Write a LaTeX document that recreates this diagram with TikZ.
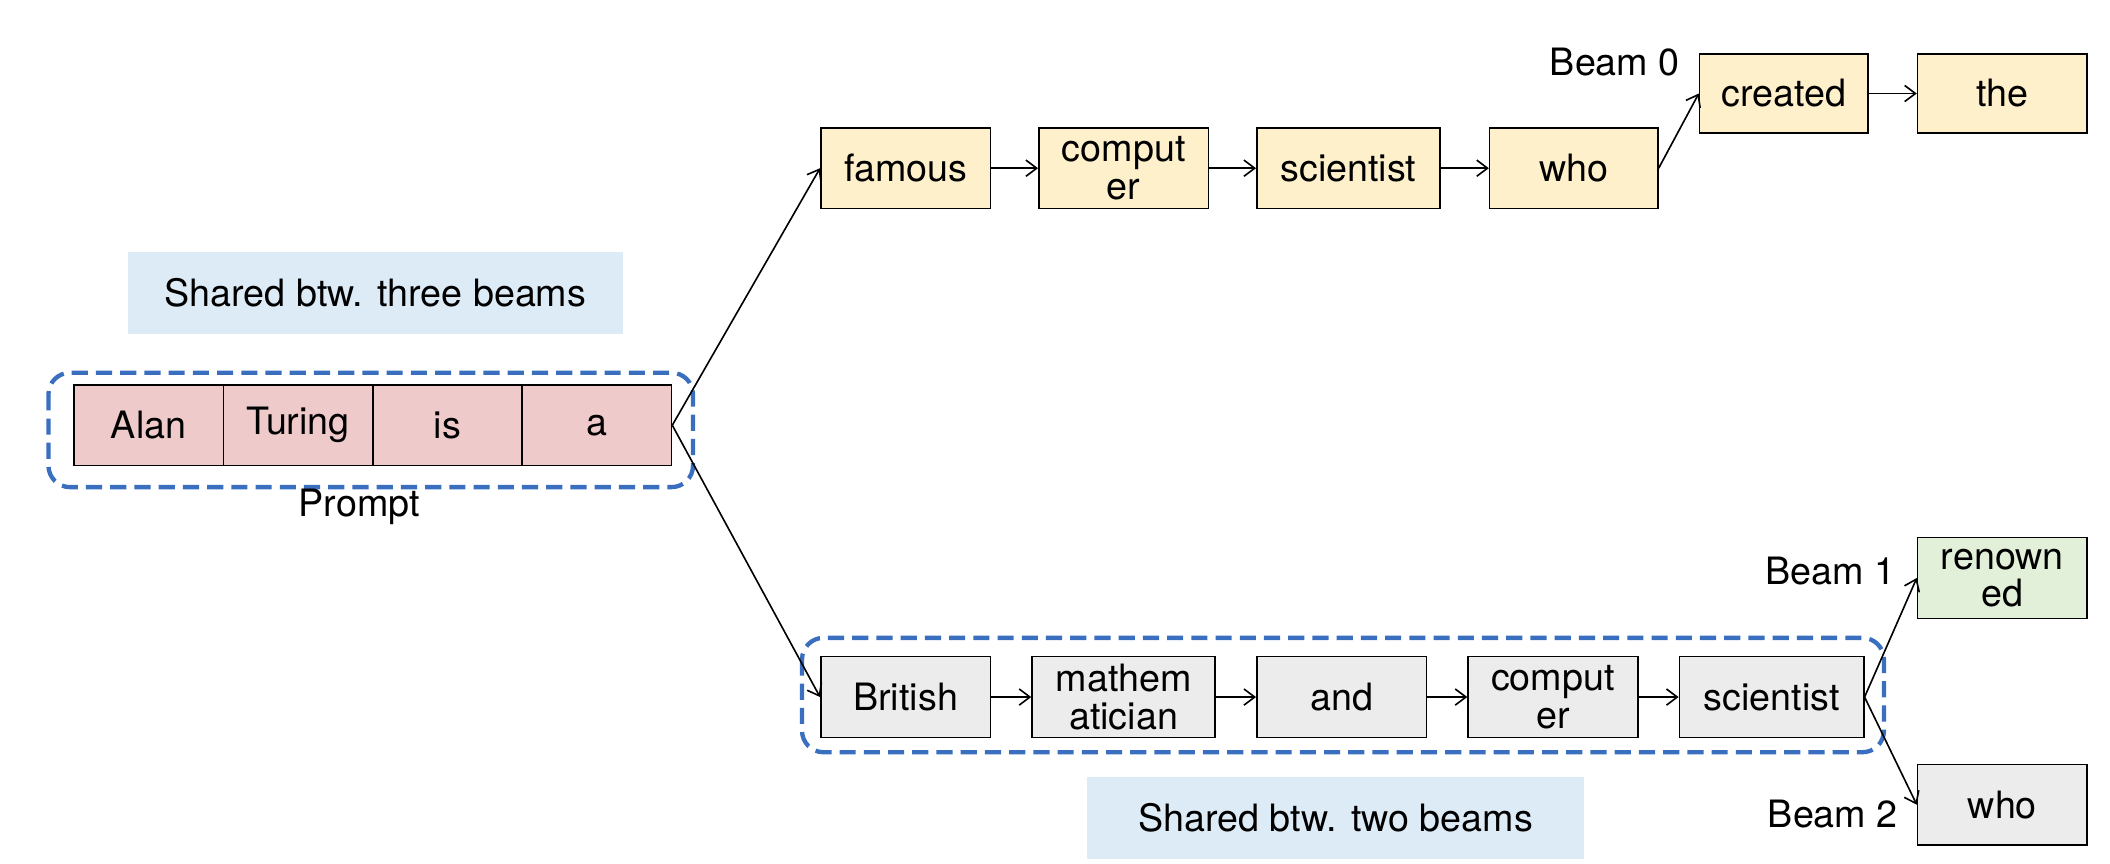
\documentclass[tikz,border=0pt]{standalone}
\usepackage{fontspec}
\setmainfont{TeX Gyre Heros}
\usetikzlibrary{arrows.meta}
\begin{document}
\begin{tikzpicture}[x=0.5pt,y=-0.5pt,
 tok/.style={draw=black,line width=0.6pt,minimum width=63pt,minimum height=30pt,inner sep=0pt,align=center,font=\fontsize{14}{14}\selectfont},
 ptok/.style={tok,fill=pinkf,minimum width=55.5pt},
 ytok/.style={tok,fill=yelf},
 gtok/.style={tok,fill=grayf},
 lab/.style={font=\fontsize{14}{16}\selectfont},
 share/.style={fill=bluef,minimum height=30.5pt,inner sep=0pt,font=\fontsize{14}{16}\selectfont},
 dbox/.style={draw=dashb,line width=1.6pt,rounded corners=8pt,dash pattern=on 6pt off 3pt},
 arr/.style={-{Straight Barb[length=4pt,width=6pt]},line width=0.6pt}]
\definecolor{pinkf}{HTML}{EECACB}
\definecolor{yelf}{HTML}{FDF0CA}
\definecolor{grayf}{HTML}{ECECEC}
\definecolor{greenf}{HTML}{E2F0D9}
\definecolor{bluef}{HTML}{DDEBF7}
\definecolor{dashb}{HTML}{3A6FC0}
\useasboundingbox (0,0) rectangle (1568,642);
\node[share,minimum width=184pt] (s3) at (279,217.5) {Shared btw. three beams};
\node[share,minimum width=184.5pt] (s2) at (992.5,608) {Shared btw. two beams};
\draw[dbox] (36,277) rectangle (515,362);
\draw[dbox] (596,474) rectangle (1400,559);
\node[ptok] (p1) at (110.5,316) {Alan};
\node[ptok] (p2) at (221.5,316) {Turing};
\node[ptok] (p3) at (332.5,316) {is};
\node[ptok] (p4) at (443.5,316) {a};
\node[lab] (pr) at (267,377) {Prompt};
\node[ytok] (t1) at (673,125) {famous};
\node[ytok] (t2) at (835,125) {comput\\er};
\node[ytok,minimum width=68pt] (t3) at (1002,125) {scientist};
\node[ytok,minimum width=62.5pt] (t4) at (1169.5,125) {who};
\node[ytok,minimum width=62.5pt,minimum height=29.5pt] (t5) at (1325.5,69.5) {created};
\node[ytok,minimum height=29.5pt] (t6) at (1488,69.5) {the};
\node[lab] (b0) at (1200,46) {Beam 0};
\node[gtok] (u1) at (673,518) {British};
\node[gtok,minimum width=68pt] (u2) at (835,518) {mathem\\atician};
\node[gtok] (u3) at (997,518) {and};
\node[gtok] (u4) at (1154,518) {comput\\er};
\node[gtok,minimum width=68.5pt] (u5) at (1316.5,518) {scientist};
\node[tok,fill=greenf] (r1) at (1488,429.5) {renown\\ed};
\node[gtok] (r2) at (1488,598) {who};
\node[lab] (b1) at (1360,424) {Beam 1};
\node[lab] (b2) at (1362,605) {Beam 2};
\draw[arr] (p4.east) -- (t1.west);
\draw[arr] (p4.east) -- (u1.west);
\draw[arr] (t1) -- (t2);
\draw[arr] (t2) -- (t3);
\draw[arr] (t3) -- (t4);
\draw[arr] (t4.east) -- (t5.west);
\draw[arr] (t5) -- (t6);
\draw[arr] (u1) -- (u2);
\draw[arr] (u2) -- (u3);
\draw[arr] (u3) -- (u4);
\draw[arr] (u4) -- (u5);
\draw[arr] (u5.east) -- (r1.west);
\draw[arr] (u5.east) -- (r2.west);
\end{tikzpicture}
\end{document}
